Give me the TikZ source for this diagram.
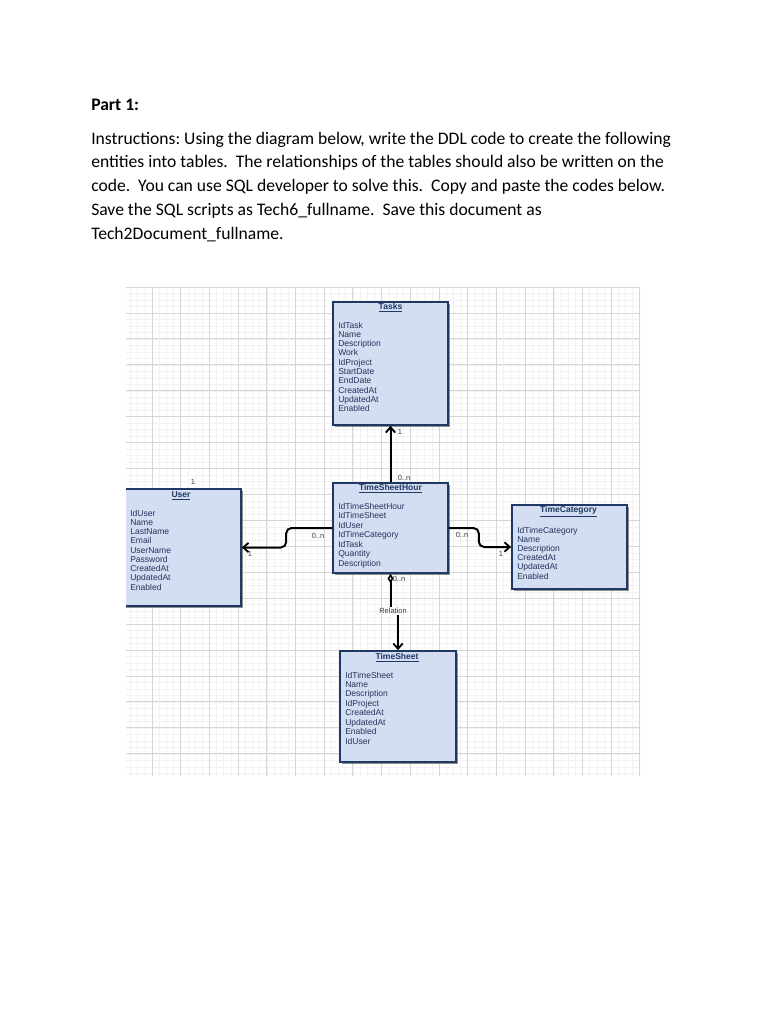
\documentclass[tikz,border=0pt]{standalone}
\usepackage{fontspec}
\setmainfont{Carlito}
\newfontfamily\diag{Liberation Sans}
\usetikzlibrary{arrows.meta,shadows}
\definecolor{navy}{RGB}{31,56,100}
\definecolor{efill}{RGB}{211,222,242}
\definecolor{fieldc}{RGB}{38,50,92}
\definecolor{gmajor}{RGB}{214,214,214}
\definecolor{gminor}{RGB}{242,242,242}
\definecolor{lblc}{RGB}{60,60,60}
\begin{document}
\frenchspacing
\begin{tikzpicture}[x=0.75pt,y=-0.75pt,
  entity/.style={draw=navy, line width=1.2pt, fill=efill, inner sep=0pt,
    drop shadow={shadow xshift=1.2pt, shadow yshift=-1.2pt, opacity=0.8, fill=black!55}},
  etitle/.style={font=\diag\bfseries\fontsize{6.4}{7}\selectfont, text=navy, inner sep=0pt},
  field/.style={font=\diag\fontsize{6.4}{7}\selectfont, text=fieldc, anchor=base west, inner sep=0pt},
  lbl/.style={font=\diag\fontsize{5.6}{6}\selectfont, text=lblc, inner sep=0.5pt},
  rel/.style={line width=1.5pt, black},
  dia/.style={{Diamond[fill=white,length=7pt,width=4.5pt,line width=1.2pt]}-},
  arr/.style={-{Straight Barb[length=4pt,width=7pt,line width=1.4pt]}},
  head/.style={font=\bfseries\fontsize{13.2}{15}\selectfont, anchor=base west, inner sep=0pt},
  body/.style={font=\fontsize{13.2}{15}\selectfont, anchor=base west, inner sep=0pt},
]
\useasboundingbox[fill=white] (0,0) rectangle (768,1024);

% header text
\node[head] (part) at (91,110) {Part 1:};
\node[body] (l1) at (91,144.3) {Instructions: Using the diagram below, write the DDL code to create the following};
\node[body] (l2) at (91,167.9) {entities into tables.\ \ The relationships of the tables should also be written on the};
\node[body] (l3) at (91,191.6) {code.\ \ You can use SQL developer to solve this.\ \ Copy and paste the codes below.};
\node[body] (l4) at (91,215.3) {Save the SQL scripts as Tech6\_fullname.\ \ Save this document as};
\node[body] (l5) at (91,239) {Tech2Document\_fullname.};

\begin{scope}
\clip (126,287) rectangle (640,776);
% grid
\foreach \i in {-4,...,68} \draw[gminor, line width=0.4pt] ({152+\i*7.175},287) -- ({152+\i*7.175},776);
\foreach \j in {-4,...,72} \draw[gminor, line width=0.4pt] (126,{313+\j*6.483}) -- (640,{313+\j*6.483});
\foreach \i in {-1,...,17} \draw[gmajor, line width=0.7pt] ({152+\i*28.7},287) -- ({152+\i*28.7},776);
\foreach \j in {-1,...,18} \draw[gmajor, line width=0.7pt] (126,{313+\j*25.93}) -- (640,{313+\j*25.93});

% entities
\node[entity, minimum width=86.25pt, minimum height=92.25pt] (tasks) at (390.5,363.5) {};
\node[entity, minimum width=86.25pt, minimum height=67.5pt] (tsh) at (390.5,528) {};
\node[entity, minimum width=86.25pt, minimum height=63pt] (tcat) at (569.5,547) {};
\node[entity, minimum width=90pt, minimum height=87.75pt] (user) at (181,547.5) {};
\node[entity, minimum width=87pt, minimum height=83.25pt] (ts) at (398,706.5) {};

% titles
\node[etitle] (tasks-t) at (390.5,308) {\underline{Tasks}};
\node[etitle] (tsh-t) at (390.5,489) {\underline{TimeSheetHour}};
\node[etitle] (tcat-t) at (568.5,512) {\underline{TimeCategory}};
\node[etitle] (user-t) at (181,496) {\underline{User}};
\node[etitle] (ts-t) at (397,658) {\underline{TimeSheet}};

% fields
\foreach \t [count=\i from 0] in {IdTask,Name,Description,Work,IdProject,StartDate,EndDate,CreatedAt,UpdatedAt,Enabled}
  \node[field] (tasks-f\i) at (338,{328+\i*9.3}) {\t};
\foreach \t [count=\i from 0] in {IdTimeSheetHour,IdTimeSheet,IdUser,IdTimeCategory,IdTask,Quantity,Description}
  \node[field] (tsh-f\i) at (338,{509+\i*9.5}) {\t};
\foreach \t [count=\i from 0] in {IdTimeCategory,Name,Description,CreatedAt,UpdatedAt,Enabled}
  \node[field] (tcat-f\i) at (517,{533+\i*9.2}) {\t};
\foreach \t [count=\i from 0] in {IdUser,Name,LastName,Email,UserName,Password,CreatedAt,UpdatedAt,Enabled}
  \node[field] (user-f\i) at (130,{516+\i*9.25}) {\t};
\foreach \t [count=\i from 0] in {IdTimeSheet,Name,Description,IdProject,CreatedAt,UpdatedAt,Enabled,IdUser}
  \node[field] (ts-f\i) at (345,{678+\i*9.43}) {\t};

% connectors
\draw[rel, dia, arr] (tsh.north) -- (tasks.south);
\draw[rel, dia, arr, rounded corners=4pt] (tsh.west) -- ++(-46,0) |- (user.east);
\draw[rel, dia, arr, rounded corners=4pt] (tsh.east) -- ++(30,0) |- (tcat.west);
\node[lbl] (relname) at (393,611) {Relation};
\draw[rel, dia] (tsh.south) -- (tsh.south |- relname.north);
\draw[rel, arr] (relname.south -| ts.north) -- (ts.north);

% multiplicity labels
\node[lbl] (m1) at (400,432) {1};
\node[lbl] (m2) at (404,478) {0..n};
\node[lbl] (m3) at (193,482) {1};
\node[lbl] (m4) at (318,536) {0..n};
\node[lbl] (m5) at (250,554) {1};
\node[lbl] (m6) at (462,535) {0..n};
\node[lbl] (m7) at (501,554) {1};
\node[lbl] (m8) at (399,579) {0..n};
\end{scope}
\end{tikzpicture}
\end{document}
